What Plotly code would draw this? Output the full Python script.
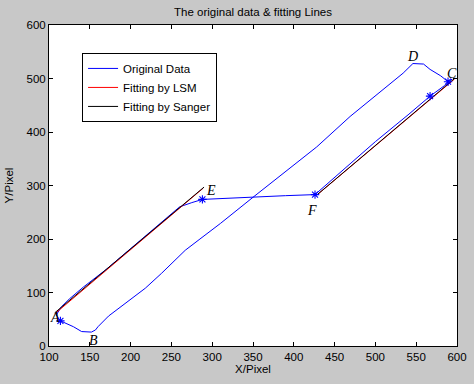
import plotly.graph_objects as go

# Original (blue) contour, traced A -> B -> D -> C -> F -> E -> A
orig_x = [114, 130, 140, 152, 157, 160, 173, 197, 218, 238, 267, 285, 310, 350, 387, 428, 469, 510, 534, 546, 559, 567, 580, 589, 594, 590, 585, 567, 540, 500, 470, 440, 430, 426, 390, 350, 320, 288, 275, 260, 230, 200, 170, 142, 125, 115, 111, 109, 112, 114]
orig_y = [47, 36, 27, 26, 30, 36, 56, 83, 108, 136, 179, 200, 229, 278, 323, 372, 429, 479, 510, 528, 527, 517, 505, 494, 499, 492, 487, 467, 432, 382, 342, 303, 290, 283, 281, 278, 276, 274, 268, 260, 221, 182, 143, 110, 88, 73, 64, 58, 51, 47]

# Key points (stars)
star_x = [114, 288, 426, 567, 589]
star_y = [47, 274, 283, 467, 494]

# Fitting by LSM (red), two segments separated by None
lsm_x = [107, 289, None, 429, 597]
lsm_y = [60, 295, None, 283, 499]

# Fitting by Sanger (black)
sanger_x = [107, 290, None, 428, 597]
sanger_y = [62, 297, None, 282, 500]

# Point labels
label_text = ["A", "B", "C", "D", "E", "F"]
label_x = [107, 154, 594, 545, 298, 422]
label_y = [54, 11, 510, 541, 290, 254]

x_ticks = [100, 150, 200, 250, 300, 350, 400, 450, 500, 550, 600]
y_ticks = [0, 100, 200, 300, 400, 500, 600]

fig = go.Figure()
fig.add_trace(go.Scatter(x=orig_x, y=orig_y, mode="lines", name="Original Data",
                         line=dict(color="#0000ff", width=1)))
fig.add_trace(go.Scatter(x=lsm_x, y=lsm_y, mode="lines", name="Fitting by LSM",
                         line=dict(color="#ff0000", width=1)))
fig.add_trace(go.Scatter(x=sanger_x, y=sanger_y, mode="lines", name="Fitting by Sanger",
                         line=dict(color="#000000", width=1)))
fig.add_trace(go.Scatter(x=star_x, y=star_y, mode="markers", showlegend=False,
                         marker=dict(symbol="asterisk-open", size=7, color="#0000ff",
                                     line=dict(color="#0000ff", width=1.1))))

for t, x, y in zip(label_text, label_x, label_y):
    fig.add_annotation(x=x, y=y, text="<i>" + t + "</i>", showarrow=False,
                       font=dict(family="Liberation Serif", size=14, color="#000000"))

font_tick = dict(family="Liberation Sans", size=11.5, color="#000000")
axis_common = dict(showline=True, linecolor="black", linewidth=1, mirror="ticks",
                   ticks="inside", ticklen=4, tickcolor="black", showgrid=False,
                   zeroline=False, automargin=False, tickfont=font_tick)

fig.update_layout(
    width=474, height=384,
    paper_bgcolor="#c8c8c8", plot_bgcolor="#ffffff",
    margin=dict(l=49, r=17, t=25, b=38),
    title=dict(text="The original data & fitting Lines", x=0.5, xanchor="center",
               xref="paper", y=0.969, yanchor="middle", yref="container",
               font=dict(family="Liberation Sans", size=11.5, color="#000000")),
    xaxis=dict(range=[100, 600], tickvals=x_ticks,
               title=dict(text="X/Pixel", standoff=3,
                          font=dict(family="Liberation Sans", size=11.5, color="#000000")),
               **axis_common),
    yaxis=dict(range=[0, 600], tickvals=y_ticks,
               title=dict(text="Y/Pixel", standoff=10,
                          font=dict(family="Liberation Sans", size=11.5, color="#000000")),
               **axis_common),
    legend=dict(x=0.081, y=0.913, xanchor="left", yanchor="top",
                bgcolor="#ffffff", bordercolor="#000000", borderwidth=1,
                font=dict(family="Liberation Sans", size=11.5, color="#000000"),
                tracegroupgap=0, itemwidth=30),
    showlegend=True,
)

fig.write_html("out.html", config={"displayModeBar": False},
               post_script="document.body.style.margin='0';document.body.style.background='#c8c8c8';")
